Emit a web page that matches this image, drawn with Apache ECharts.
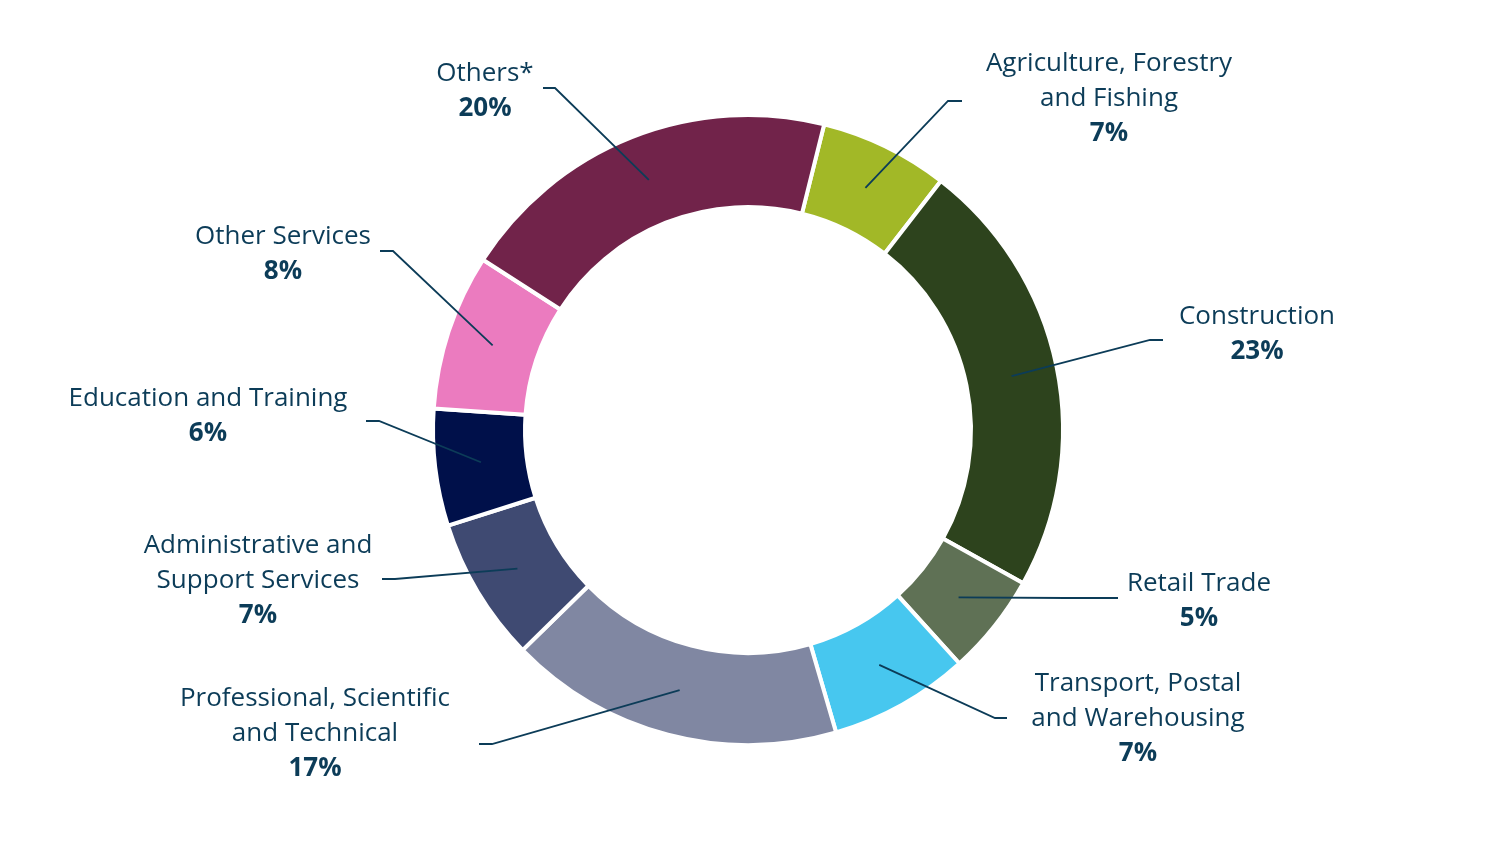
<!DOCTYPE html>
<html>
<head>
<meta charset="utf-8">
<script src="https://cdn.jsdelivr.net/npm/echarts@6/dist/echarts.min.js"></script>
<style>
  html, body { margin: 0; padding: 0; background: #fff; }
  #chart { width: 1500px; height: 851px; }
</style>
</head>
<body>
<div id="chart"></div>
<script>
// categories, clockwise from the top
const categories = [
  'Agriculture, Forestry\nand Fishing',
  'Construction',
  'Retail Trade',
  'Transport, Postal\nand Warehousing',
  'Professional, Scientific\nand Technical',
  'Administrative and\nSupport Services',
  'Education and Training',
  'Other Services',
  'Others*'
]
// share of total (%), read from the ring
const shares = [6.6, 22.6, 5.2, 7.2, 17.2, 7.4, 6.0, 8.0, 19.8]

const colors = ['#a2b827', '#2d431d', '#5f7155', '#47c7ef', '#8087a2', '#3f4a72', '#00104a', '#eb7bbf', '#71234a']

// label block centre [x, y] and leader elbow [x, y] + end x
const labelPos = [
  [1109, 99, 948, 101, 962],
  [1257, 334, 1150, 340, 1163],
  [1199, 601, 1066, 598, 1118],
  [1138, 719, 995, 718, 1007],
  [315, 734, 492, 744, 479],
  [258, 581, 395, 579, 382],
  [208, 416, 379, 421, 366],
  [283, 254, 393, 251, 380],
  [485, 91, 555, 88, 543]
]

const textColor = '#0c3c58'
const center = [748, 430]

const chart = echarts.init(document.getElementById('chart'))

const pieData = categories.map((name, i) => ({
  name,
  value: shares[i],
  itemStyle: { color: colors[i] }
}))

const option = {
  backgroundColor: '#fff',
  animation: false,
  series: [
    {
      type: 'pie',
      z: 2,
      center,
      radius: [223, 315],
      startAngle: 76,
      clockwise: true,
      silent: true,
      label: { show: false },
      labelLine: { show: false },
      itemStyle: { borderColor: '#fff', borderWidth: 4 },
      data: pieData
    },
    {
      // invisible pie at the middle of the ring, only for labels and leaders
      type: 'pie',
      z: 5,
      center,
      radius: [0, 269],
      startAngle: 76,
      clockwise: true,
      silent: true,
      avoidLabelOverlap: false,
      itemStyle: { color: 'transparent', borderWidth: 0 },
      label: {
        show: true,
        position: 'outer',
        formatter: p => `{n|${p.name}}\n{p|${Math.round(p.value)}%}`,
        rich: {
          n: {
            fontFamily: 'Open Sans',
            fontSize: 26,
            color: textColor,
            lineHeight: 35
          },
          p: {
            fontFamily: 'Open Sans',
            fontSize: 26,
            fontWeight: 'bold',
            color: textColor,
            lineHeight: 35
          }
        }
      },
      labelLine: {
        show: true,
        length: 20,
        length2: 10,
        lineStyle: { color: textColor, width: 1.8 }
      },
      labelLayout: params => {
        const pos = labelPos[params.dataIndex]
        const start = params.labelLinePoints ? params.labelLinePoints[0] : null
        const out = {
          x: pos[0],
          y: pos[1],
          align: 'center',
          verticalAlign: 'middle'
        }
        if (start) {
          out.labelLinePoints = [start, [pos[2], pos[3]], [pos[4], pos[3]]]
        }
        return out
      },
      data: categories.map((name, i) => ({ name, value: shares[i] }))
    }
  ]
}

chart.setOption(option)
</script>
</body>
</html>
